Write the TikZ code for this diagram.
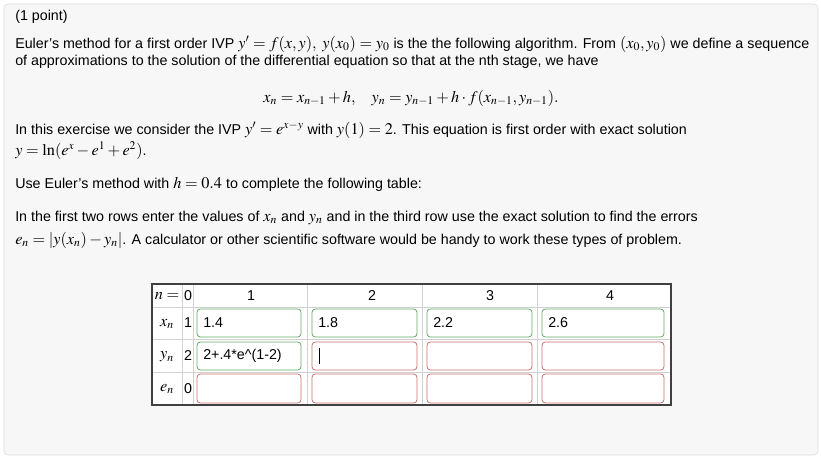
\documentclass[tikz,border=0pt]{standalone}
\usepackage{mathptmx}
\usepackage{fontspec}
\setmainfont{Liberation Sans}
\DeclareMathSizes{10.7}{12.2}{8.8}{6.6}
\begin{document}
\begin{tikzpicture}[x=0.75pt,y=-0.75pt,
  txt/.style={anchor=west,inner sep=0pt,font=\fontsize{10.7}{12}\selectfont},
  hdr/.style={inner sep=0pt,font=\fontsize{10.7}{12}\selectfont},
  okbox/.style={draw=green!45!black!60,fill=white,rounded corners=2.5pt,line width=0.6pt},
  badbox/.style={draw=red!60!black!55,fill=white,rounded corners=2.5pt,line width=0.6pt},
  grid/.style={draw=black!18,line width=0.5pt}]
\useasboundingbox (0,0) rectangle (821,458);
\path[fill=black!3,draw=black!15,rounded corners=3pt] (4,4) rectangle (818,455);
\node[txt] (t1) at (15,17) {(1 point)};
\node[txt] (t2) at (15,44) {Euler's method for a first order IVP $y'=f(x,y),\ y(x_0)=y_0$ is the the following algorithm. From $(x_0,y_0)$ we define a sequence};
\node[txt] (t3) at (15,62) {of approximations to the solution of the differential equation so that at the nth stage, we have};
\node[hdr] (eq) at (411,98) {$x_n=x_{n-1}+h,\quad y_n=y_{n-1}+h\cdot f(x_{n-1},y_{n-1}).$};
\node[txt] (t4) at (15,130) {In this exercise we consider the IVP $y'=e^{x-y}$ with $y(1)=2$. This equation is first order with exact solution};
\node[txt] (t5) at (15,151) {$y=\ln(e^x-e^1+e^2)$.};
\node[txt] (t6) at (15,184) {Use Euler's method with $h=0.4$ to complete the following table:};
\node[txt] (t7) at (15,218) {In the first two rows enter the values of $x_n$ and $y_n$ and in the third row use the exact solution to find the errors};
\node[txt] (t8) at (15,240) {$e_n=|y(x_n)-y_n|$. A calculator or other scientific software would be handy to work these types of problem.};
% table
\path[fill=white] (152,284) rectangle (671,405);
\foreach \x in {182,193,307,422,537} \draw[grid] (\x,284) -- (\x,405);
\foreach \y in {307,339,372} \draw[grid] (152,\y) -- (671,\y);
\draw[black!75,line width=0.8pt] (152,284) rectangle (671,405);
\node[hdr] (h0) at (167,296) {$n=$};
\node[hdr] (c0) at (188,296) {0};
\node[hdr] (c1) at (251,296) {1};
\node[hdr] (c2) at (372,296) {2};
\node[hdr] (c3) at (490,296) {3};
\node[hdr] (c4) at (610,296) {4};
\node[hdr] (rx) at (167,324) {$x_n$};
\node[hdr] (r1) at (188,323) {1};
\node[hdr] (ry) at (167,357) {$y_n$};
\node[hdr] (r2) at (188,356) {2};
\node[hdr] (re) at (167,389) {$e_n$};
\node[hdr] (r3) at (188,389) {0};
\foreach \a/\b in {197/301,312/417,427/532,542/664}{
  \path[okbox] (\a,309) rectangle (\b,337);
}
\path[okbox] (197,342) rectangle (301,370);
\foreach \a/\b in {312/417,427/532,542/664}{
  \path[badbox] (\a,342) rectangle (\b,370);
}
\foreach \a/\b in {197/301,312/417,427/532,542/664}{
  \path[badbox] (\a,374) rectangle (\b,403);
}
\node[txt] (v1) at (203,323) {1.4};
\node[txt] (v2) at (318,323) {1.8};
\node[txt] (v3) at (433,323) {2.2};
\node[txt] (v4) at (548,323) {2.6};
\node[txt] (w1) at (203,356) {2+.4*e\string^(1-2)};
\draw[line width=0.7pt] (319,348) -- (319,364);
\end{tikzpicture}
\end{document}
